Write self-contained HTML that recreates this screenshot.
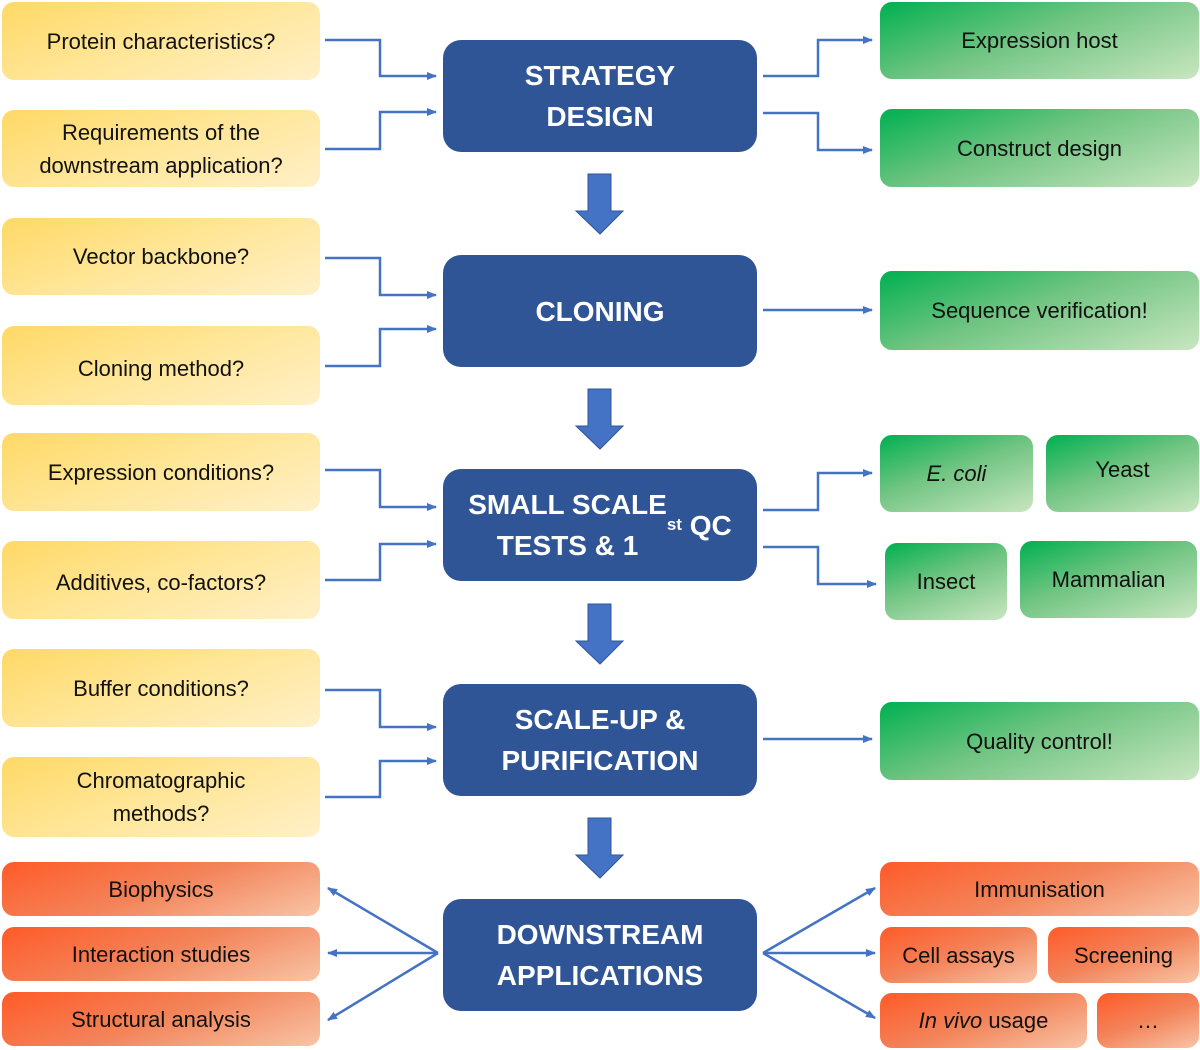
<!DOCTYPE html>
<html><head><meta charset="utf-8"><style>
body{margin:0;width:1200px;height:1050px;background:#fff;position:relative;overflow:hidden;font-family:"Liberation Sans",sans-serif;}
.b{position:absolute;display:flex;align-items:center;justify-content:center;text-align:center;box-sizing:border-box;color:#111;font-size:22px;line-height:33px;border-radius:12px;}
.y{background:linear-gradient(160deg,#ffd966 0%,#ffe699 50%,#fff0c8 100%);}
.g{background:linear-gradient(160deg,#00b050 0%,#70c482 45%,#c9e6c0 100%);}
.r{background:linear-gradient(160deg,#ff5a28 0%,#f3845a 50%,#f8c4a6 100%);}
.m{background:#2f5597;color:#fff;font-weight:bold;font-size:28px;line-height:41px;border-radius:18px;}
svg{position:absolute;left:0;top:0;}
</style></head><body>
<svg width="1200" height="1050">
<defs><marker id="a" markerWidth="10" markerHeight="8" refX="9" refY="4" orient="auto" markerUnits="userSpaceOnUse"><path d="M0,0L10,4L0,8z" fill="#4472c4"/></marker></defs>
<g fill="none" stroke="#4472c4" stroke-width="2.5" marker-end="url(#a)">
<path d="M325,40H380V76H436"/><path d="M325,149H380V112H436"/>
<path d="M763,76H818V40H872"/><path d="M763,113H818V150H872"/>
<path d="M325,258H380V295H436"/><path d="M325,366H380V329H436"/>
<path d="M763,310H872"/>
<path d="M325,470H380V507H436"/><path d="M325,580H380V544H436"/>
<path d="M763,510H818V473H872"/><path d="M763,547H818V584H876"/>
<path d="M325,690H380V727H436"/><path d="M325,797H380V761H436"/>
<path d="M763,739H872"/>
<path d="M438,953L328,888"/><path d="M438,953H328"/><path d="M438,953L328,1020"/>
<path d="M763,953L875,888"/><path d="M763,953H875"/><path d="M763,953L875,1018"/>
</g>
<g fill="#4472c4" stroke="#2f5597" stroke-width="1">
<path d="M588,174H611V211H623L600,234L576,211H588Z"/>
<path d="M588,389H611V426H623L600,449L576,426H588Z"/>
<path d="M588,604H611V641H623L600,664L576,641H588Z"/>
<path d="M588,818H611V855H623L600,878L576,855H588Z"/>
</g>
</svg>
<div class="b y" style="left:2px;top:2px;width:318px;height:78px">Protein characteristics?</div>
<div class="b y" style="left:2px;top:110px;width:318px;height:77px">Requirements of the<br>downstream application?</div>
<div class="b y" style="left:2px;top:218px;width:318px;height:77px">Vector backbone?</div>
<div class="b y" style="left:2px;top:326px;width:318px;height:79px;padding-top:6px">Cloning method?</div>
<div class="b y" style="left:2px;top:433px;width:318px;height:78px">Expression conditions?</div>
<div class="b y" style="left:2px;top:541px;width:318px;height:78px;padding-top:4px">Additives, co-factors?</div>
<div class="b y" style="left:2px;top:649px;width:318px;height:78px">Buffer conditions?</div>
<div class="b y" style="left:2px;top:757px;width:318px;height:80px">Chromatographic<br>methods?</div>

<div class="b m" style="left:443px;top:40px;width:314px;height:112px">STRATEGY<br>DESIGN</div>
<div class="b m" style="left:443px;top:255px;width:314px;height:112px">CLONING</div>
<div class="b m" style="left:443px;top:469px;width:314px;height:112px">SMALL SCALE<br>TESTS &amp; 1<sup style="font-size:17px;line-height:0">st</sup>&nbsp;QC</div>
<div class="b m" style="left:443px;top:684px;width:314px;height:112px">SCALE-UP &amp;<br>PURIFICATION</div>
<div class="b m" style="left:443px;top:899px;width:314px;height:112px">DOWNSTREAM<br>APPLICATIONS</div>

<div class="b g" style="left:880px;top:2px;width:319px;height:77px">Expression host</div>
<div class="b g" style="left:880px;top:109px;width:319px;height:78px">Construct design</div>
<div class="b g" style="left:880px;top:271px;width:319px;height:79px">Sequence verification!</div>
<div class="b g" style="left:880px;top:435px;width:153px;height:77px;font-style:italic">E. coli</div>
<div class="b g" style="left:1046px;top:435px;width:153px;height:77px;padding-bottom:8px">Yeast</div>
<div class="b g" style="left:885px;top:543px;width:122px;height:77px">Insect</div>
<div class="b g" style="left:1020px;top:541px;width:177px;height:77px">Mammalian</div>
<div class="b g" style="left:880px;top:702px;width:319px;height:78px">Quality control!</div>

<div class="b r" style="left:2px;top:862px;width:318px;height:54px">Biophysics</div>
<div class="b r" style="left:2px;top:927px;width:318px;height:54px">Interaction studies</div>
<div class="b r" style="left:2px;top:992px;width:318px;height:54px">Structural analysis</div>
<div class="b r" style="left:880px;top:862px;width:319px;height:54px">Immunisation</div>
<div class="b r" style="left:880px;top:927px;width:157px;height:56px">Cell assays</div>
<div class="b r" style="left:1048px;top:927px;width:151px;height:56px">Screening</div>
<div class="b r" style="left:880px;top:993px;width:207px;height:55px"><span><i>In vivo</i> usage</span></div>
<div class="b r" style="left:1097px;top:993px;width:102px;height:55px">…</div>
</body></html>
